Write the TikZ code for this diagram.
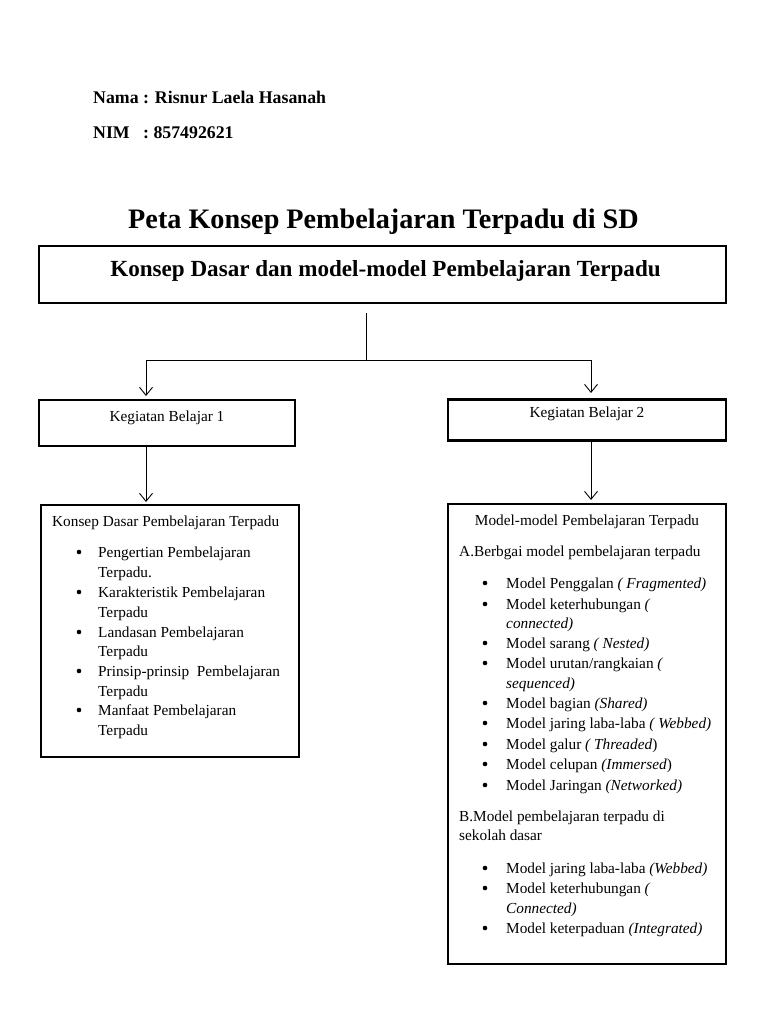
\documentclass[tikz,border=0pt]{standalone}
\usepackage{fontspec}
\setmainfont{Liberation Serif}
\usetikzlibrary{arrows.meta}
\tikzset{
  box/.style={draw, line width=1.8pt, inner sep=0pt},
  thickbox/.style={draw, line width=2.6pt, inner sep=0pt},
  conn/.style={draw, line width=0.9pt},
  arr/.style={conn, -{Straight Barb[length=8pt,width=13pt,line width=0.9pt]}},
  txt/.style={inner sep=0pt, font=\fontsize{15.3}{20}\selectfont},
  line/.style={txt, anchor=base west},
  bul/.style={circle, fill=black, inner sep=0pt, minimum size=4.6pt},
}
\begin{document}
\begin{tikzpicture}[x=1pt,y=-1pt]
\useasboundingbox (0,0) rectangle (768,1024);
\fill[white] (0,0) rectangle (768,1024);

% header
\node[anchor=base west, inner sep=0pt, font=\fontsize{17.8}{20}\selectfont\bfseries] (nama) at (93,104) {Nama : Risnur Laela Hasanah};
\node[anchor=base west, inner sep=0pt, font=\fontsize{17.8}{20}\selectfont\bfseries] (nim) at (93,139) {NIM\hspace{0.75em}: 857492621};
\node[anchor=base, inner sep=0pt, font=\fontsize{28.2}{30}\selectfont\bfseries] (title) at (383.5,229) {Peta Konsep Pembelajaran Terpadu di SD};

% main box
\node[box, minimum width=687pt, minimum height=57pt] (main) at (382.5,274.5) {};
\node[anchor=base, inner sep=0pt, font=\fontsize{23.1}{26}\selectfont\bfseries] (maint) at (385.5,276) {Konsep Dasar dan model-model Pembelajaran Terpadu};

% kegiatan boxes
\node[box, minimum width=256pt, minimum height=46pt] (kb1) at (167,423) {};
\node[txt, anchor=base] (kb1t) at (167,421) {Kegiatan Belajar 1};
\node[thickbox, minimum width=278pt, minimum height=41pt] (kb2) at (587,420) {};
\node[txt, anchor=base] (kb2t) at (587,417) {Kegiatan Belajar 2};

% content boxes
\node[box, minimum width=258pt, minimum height=252pt] (left) at (170,631) {};
\node[box, minimum width=278pt, minimum height=460pt] (right) at (587,734) {};

% connectors
\coordinate (top) at (366,313);
\coordinate (mid) at (366,360);
\coordinate (lc) at (146,360);
\coordinate (rc) at (591,360);
\draw[conn] (top) -- (mid);
\draw[conn] (lc) -- (rc);
\draw[arr] (lc) -- (146,396);
\draw[arr] (rc) -- (591,393);
\draw[arr] (146,446) -- (146,502);
\draw[arr] (591,441) -- (591,500);

% left box content
\node[line] (l0) at (52,526) {Konsep Dasar Pembelajaran Terpadu};
\foreach \y/\t in {557/Pengertian Pembelajaran,
                   597/Karakteristik Pembelajaran,
                   637/Landasan Pembelajaran,
                   676/Prinsip-prinsip\ \ Pembelajaran,
                   715/Manfaat Pembelajaran}{
  \node[bul] at (79,\y-5) {};
  \node[line] at (98,\y) {\t};
}
\node[line] (l1b) at (98,577) {Terpadu.};
\node[line] (l2b) at (98,617) {Terpadu};
\node[line] (l3b) at (98,656) {Terpadu};
\node[line] (l4b) at (98,696) {Terpadu};
\node[line] (l5b) at (98,735) {Terpadu};

% right box content
\node[txt, anchor=base] (r0) at (587,525) {Model-model Pembelajaran Terpadu};
\node[line] (ra) at (459,556) {A.Berbgai model pembelajaran terpadu};
\foreach \y/\t in {588/{Model Penggalan \textit{( Fragmented)}},
                   609/{Model keterhubungan \textit{(}},
                   648/{Model sarang \textit{( Nested)}},
                   668/{Model urutan/rangkaian \textit{(}},
                   708/{Model bagian \textit{(Shared)}},
                   728/{Model jaring laba-laba \textit{( Webbed)}},
                   749/{Model galur \textit{( Threaded})},
                   769/{Model celupan \textit{(Immersed})},
                   790/{Model Jaringan \textit{(Networked)}},
                   873/{Model jaring laba-laba \textit{(Webbed)}},
                   893/{Model keterhubungan \textit{(}},
                   933/{Model keterpaduan \textit{(Integrated)}}}{
  \node[bul] at (485,\y-5) {};
  \node[line] at (506,\y) {\t};
}
\node[line] (r2b) at (506,628) {\textit{connected)}};
\node[line] (r4b) at (506,688) {\textit{sequenced)}};
\node[line] (rb) at (459,821) {B.Model pembelajaran terpadu di};
\node[line] (rb2) at (459,840) {sekolah dasar};
\node[line] (r11b) at (506,913) {\textit{Connected)}};
\end{tikzpicture}
\end{document}
